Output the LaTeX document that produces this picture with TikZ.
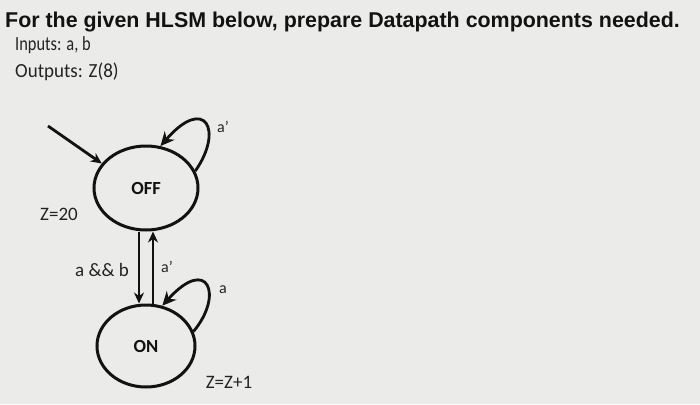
\documentclass[tikz,border=0pt]{standalone}
\usepackage{fontspec}
\setmainfont{Carlito}
\newfontfamily\titlefont{Liberation Sans}
\usetikzlibrary{shapes.geometric,arrows.meta}
\definecolor{bg}{RGB}{235,235,233}
\definecolor{ink}{RGB}{18,18,18}
\definecolor{lbl}{RGB}{35,35,35}
\tikzset{
  state/.style={ellipse,draw=ink,line width=3pt,inner sep=0pt,
    font=\fontsize{18.5}{18.5}\selectfont\bfseries,text=ink},
  arr/.style={draw=ink,line width=2.4pt,-{Stealth[length=11pt,width=10pt]}},
  looparr/.style={draw=ink,line width=2.8pt,-{Stealth[length=14pt,width=13pt]}},
  lab/.style={font=\fontsize{19}{19}\selectfont,text=lbl,inner sep=0pt},
  hlab/.style={font=\fontsize{20}{20}\selectfont,text=lbl,inner sep=0pt},
  slab/.style={font=\fontsize{16}{16}\selectfont,text=lbl,inner sep=0pt}
}
\begin{document}
\begin{tikzpicture}[x=1pt,y=1pt]
\fill[bg] (0,0) rectangle (700,-404);
\useasboundingbox (0,0) rectangle (700,-404);
% header texts
\node[anchor=base west,inner sep=0pt,text=ink,font=\titlefont\fontsize{21.4}{22}\selectfont\bfseries] (title) at (5,-28) {For the given HLSM below, prepare Datapath components needed.};
\node[hlab,anchor=base west] (inputs) at (15,-51) {\scalebox{0.82}[1]{Inputs: a, b}};
\node[hlab,anchor=base west] (outputs) at (15,-77) {\scalebox{0.95}[1]{Outputs: Z(8)}};
% states
\node[state,minimum width=104pt,minimum height=84pt] (off) at (146,-188) {OFF};
\node[state,minimum width=98pt,minimum height=82pt] (on) at (146,-346) {ON};
% initial arrow
\coordinate (init) at (48,-126);
\draw[arr,line width=2.8pt] (init) -- (off.151);
% self loops
\draw[looparr] (off.19) .. controls (224,-130) and (205,-95) .. (off.71);
\draw[looparr] (on.17) .. controls (224,-295) and (208,-255) .. (on.68);
% transitions
\draw[arr] ([xshift=-7pt]off.south) -- ([xshift=-7pt]on.north);
\draw[arr] ([xshift=7pt]on.north) -- ([xshift=7pt]off.south);
% labels
\node[lab] (z20) at (59,-214) {Z=20};
\node[lab] (ab) at (102,-270) {a \&\& b};
\node[slab] (na) at (167,-267) {a’};
\node[slab] (na2) at (223,-127) {a’};
\node[slab] (aa) at (223,-290) {a};
\node[lab] (zz) at (229,-382) {Z=Z+1};
\end{tikzpicture}
\end{document}
